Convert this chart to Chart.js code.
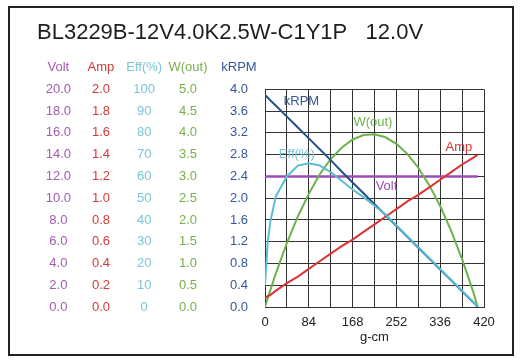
<!DOCTYPE html>
<html><head><meta charset="utf-8">
<script src="https://cdn.jsdelivr.net/npm/chart.js@4"></script>
<style>
html,body{margin:0;padding:0;background:#fff;}
#wrap{position:relative;width:528px;height:362px;overflow:hidden;}
#frame{position:absolute;left:8px;top:6px;width:502px;height:346px;border:2px solid #222;pointer-events:none;}
canvas{position:absolute;left:0;top:0;}
</style></head><body>
<div id="wrap"><canvas id="c" width="528" height="362"></canvas><div id="frame"></div></div>
<script>
// ---- data ----
const torque = [0,5,10,21,42,63,84,105,126,147,168,189,210,231,252,273,294,315,336,357,378,399,408];
const volt   = [12,12,12,12,12,12,12,12,12,12,12,12,12,12,12,12,12,12,12,12,12,12,12];
const amp    = [0.08,0.10,0.11,0.15,0.22,0.28,0.35,0.42,0.49,0.56,0.62,0.69,0.76,0.83,0.90,0.97,1.03,1.10,1.17,1.24,1.31,1.37,1.40];
const eff    = [10,29,39,51,60,65,66,65,62,58,54,50.5,46.5,42.5,37.5,32.5,27.5,22.5,17.5,12.5,7.5,2.5,0];
const wout   = [0,0.19,0.38,0.78,1.47,2.08,2.60,3.05,3.40,3.66,3.85,3.95,3.97,3.90,3.75,3.52,3.20,2.80,2.32,1.75,1.10,0.36,0];
const krpm   = [3.90,3.85,3.80,3.70,3.50,3.30,3.10,2.90,2.70,2.49,2.29,2.09,1.89,1.69,1.49,1.29,1.09,0.89,0.69,0.49,0.29,0.09,0];

const headers   = ['Volt','Amp','Eff(%)','W(out)','kRPM'];
const voltTicks = ['0.0','2.0','4.0','6.0','8.0','10.0','12.0','14.0','16.0','18.0','20.0'];
const ampTicks  = ['0.0','0.2','0.4','0.6','0.8','1.0','1.2','1.4','1.6','1.8','2.0'];
const effTicks  = ['0','10','20','30','40','50','60','70','80','90','100'];
const wTicks    = ['0.0','0.5','1.0','1.5','2.0','2.5','3.0','3.5','4.0','4.5','5.0'];
const kTicks    = ['0.0','0.4','0.8','1.2','1.6','2.0','2.4','2.8','3.2','3.6','4.0'];
const xTicks    = ['0','84','168','252','336','420'];
const title     = 'BL3229B-12V4.0K2.5W-C1Y1P   12.0V';
const xTitle    = 'g-cm';

// ---- styling ----
const C = {
  volt:{txt:'#a25db0', line:'#9a4db3'},
  amp:{txt:'#d23a3a', line:'#d83434'},
  eff:{txt:'#78c6d6', line:'#5bbdd2'},
  w:{txt:'#76b04a', line:'#6cb24a'},
  k:{txt:'#34579a', line:'#244e8e'}
};
const GRID = '#333';
const FONT = '"Liberation Sans", Arial, sans-serif';
Chart.defaults.font.family = FONT;
Chart.defaults.font.size = 13;

const pts = arr => torque.map((t,i)=>({x:t, y:arr[i]}));
function ds(label, arr, axis, color, w){
  return {label, data:pts(arr), yAxisID:axis, borderColor:color, backgroundColor:color,
          borderWidth:w||2, pointRadius:0, fill:false, tension:0};
}

function yAxis(weight, width, pad, max, step, labels, color, grid){
  return {
    type:'linear', position:'left', weight, min:0, max,
    ticks:{stepSize:step, color, padding:pad, crossAlign:'center', font:{size:13},
           callback:(v,i)=>labels[i]},
    grid:{display:!!grid, drawTicks:false, color:GRID, lineWidth:1},
    border:{display:!!grid, color:GRID},
    afterFit:s=>{s.width=width;}
  };
}

const lineLabels = [
  {text:'kRPM',   axis:'yK', x:70,  y:3.77, color:'#34579a'},
  {text:'W(out)', axis:'yW', x:207, y:4.23, color:C.w.line},
  {text:'Eff(%)', axis:'yE', x:61,  y:70.2, color:C.eff.txt},
  {text:'Amp',    axis:'yA', x:372, y:1.47, color:C.amp.line},
  {text:'Volt',   axis:'yV', x:233, y:11.1, color:C.volt.line}
];

const decor = {
  id:'decor',
  afterDraw(chart){
    const ctx = chart.ctx;
    ctx.save();
    ctx.font = '13px ' + FONT;
    ctx.textAlign = 'center';
    ctx.textBaseline = 'middle';
    const ids = ['yV','yA','yE','yW','yK'];
    const cols = [C.volt.txt,C.amp.txt,C.eff.txt,C.w.txt,C.k.txt];
    ids.forEach((id,i)=>{
      const s = chart.scales[id];
      let widest = 0;
      s.ticks.forEach(t=>{ widest = Math.max(widest, ctx.measureText(String(t.label)).width); });
      const cx = s.right - s.options.ticks.padding - widest/2;
      ctx.fillStyle = cols[i];
      ctx.fillText(headers[i], cx, chart.chartArea.top - 22);
    });
    const xs = chart.scales.x;
    lineLabels.forEach(l=>{
      ctx.fillStyle = l.color;
      ctx.fillText(l.text, xs.getPixelForValue(l.x), chart.scales[l.axis].getPixelForValue(l.y));
    });
    ctx.restore();
  }
};

new Chart(document.getElementById('c'), {
  type:'line',
  data:{datasets:[
    ds('Eff(%)', eff, 'yE', C.eff.line),
    ds('kRPM', krpm, 'yK', C.k.line),
    ds('Amp', amp, 'yA', C.amp.line),
    ds('W(out)', wout, 'yW', C.w.line),
    ds('Volt', volt, 'yV', C.volt.line, 2.5)
  ]},
  options:{
    responsive:false, animation:false, devicePixelRatio:1,
    layout:{padding:{left:37, right:44, top:0, bottom:15}},
    plugins:{
      legend:{display:false}, tooltip:{enabled:false},
      title:{display:true, text:title, align:'start', color:'#1e1e1e',
             font:{size:22, weight:'normal', family:FONT}, padding:{top:20, bottom:43}}
    },
    scales:{
      x:{type:'linear', position:'bottom', min:0, max:420,
         ticks:{stepSize:42, autoSkip:false, maxRotation:0, color:'#222', padding:8, font:{size:13},
                callback:(v,i)=> i%2===0 ? xTicks[i/2] : ''},
         grid:{drawTicks:false, color:GRID, lineWidth:1},
         border:{color:GRID},
         title:{display:true, text:xTitle, color:'#222', font:{size:13}, padding:{top:0,bottom:2}},
         afterFit:s=>{s.height=40;}
      },
      yV: yAxis(5, 44, 10, 20, 2, voltTicks, C.volt.txt, false),
      yA: yAxis(4, 39, 10, 2, 0.2, ampTicks, C.amp.txt, false),
      yE: yAxis(3, 45, 10, 100, 10, effTicks, C.eff.txt, false),
      yW: yAxis(2, 42, 10, 5, 0.5, wTicks, C.w.txt, false),
      yK: yAxis(1, 58, 17, 4, 0.4, kTicks, C.k.txt, true)
    }
  },
  plugins:[decor]
});
</script>
</body></html>
